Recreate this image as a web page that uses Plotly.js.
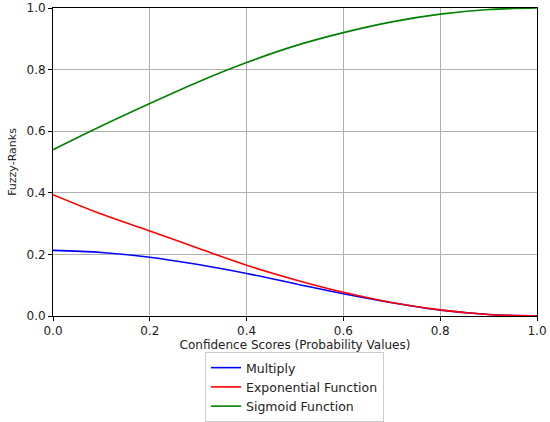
<!DOCTYPE html>
<html>
<head>
<meta charset="utf-8">
<script src="https://cdn.plot.ly/plotly-3.0.1.min.js"></script>
<style>
  html, body { margin: 0; padding: 0; background: #fff; }
  #chart { width: 550px; height: 422px; }
</style>
</head>
<body>
<div id="chart"></div>
<script>
// values
const confidence = [0, 0.1, 0.2, 0.3, 0.4, 0.5, 0.6, 0.7, 0.8, 0.9, 1.0];
const multiply = [0.213, 0.206, 0.191, 0.167, 0.138, 0.105, 0.072, 0.043, 0.019, 0.005, 0.0];
const exponential = [0.394, 0.331, 0.276, 0.220, 0.165, 0.118, 0.077, 0.044, 0.020, 0.005, 0.0];
const sigmoid = [0.540, 0.617, 0.690, 0.760, 0.823, 0.877, 0.920, 0.955, 0.980, 0.995, 1.0];
const seriesNames = ['Multiply', 'Exponential Function', 'Sigmoid Function'];
const seriesColors = ['#0000ff', '#ff0000', '#008000'];
const yTicks = [0, 0.2, 0.4, 0.6, 0.8, 1.0];
const xTicks = [0, 0.2, 0.4, 0.6, 0.8, 1.0];

const traces = [multiply, exponential, sigmoid].map((vals, i) => ({
    x: confidence,
    y: vals,
    type: 'scatter',
    mode: 'lines',
    name: seriesNames[i],
    line: { color: seriesColors[i], width: 1.6, shape: 'spline', smoothing: 1 }
}));

const axisBase = {
    range: [0, 1],
    showgrid: true,
    gridcolor: '#b0b0b0',
    gridwidth: 1,
    zeroline: false,
    showline: true,
    linecolor: '#000',
    linewidth: 1,
    mirror: true,
    ticks: 'outside',
    ticklen: 4,
    tickcolor: '#000',
    tickformat: '.1f',
    automargin: false,
    tickfont: { family: 'DejaVu Sans', size: 12, color: '#222' }
};

const layout = {
    width: 550,
    height: 422,
    margin: { l: 53, r: 13, t: 8, b: 106, autoexpand: false },
    paper_bgcolor: '#fff',
    plot_bgcolor: '#fff',
    font: { family: 'DejaVu Sans', size: 12, color: '#222' },
    xaxis: Object.assign({}, axisBase, {
        tickvals: xTicks,
        title: { text: 'Confidence Scores (Probability Values)', font: { size: 12 }, standoff: 2 }
    }),
    yaxis: Object.assign({}, axisBase, {
        tickvals: yTicks,
        title: { text: 'Fuzzy-Ranks', font: { size: 11 }, standoff: 7 }
    }),
    showlegend: true,
    legend: {
        x: 0.499,
        xanchor: 'center',
        xref: 'paper',
        y: 1 - 352 / 422,
        yref: 'container',
        yanchor: 'top',
        bordercolor: '#cccccc',
        borderwidth: 1,
        bgcolor: '#fff',
        itemwidth: 30,
        font: { family: 'DejaVu Sans', size: 12.5, color: '#222' },
        tracegroupgap: 0
    }
};

Plotly.newPlot('chart', traces, layout, { displayModeBar: false, staticPlot: true });
</script>
</body>
</html>
